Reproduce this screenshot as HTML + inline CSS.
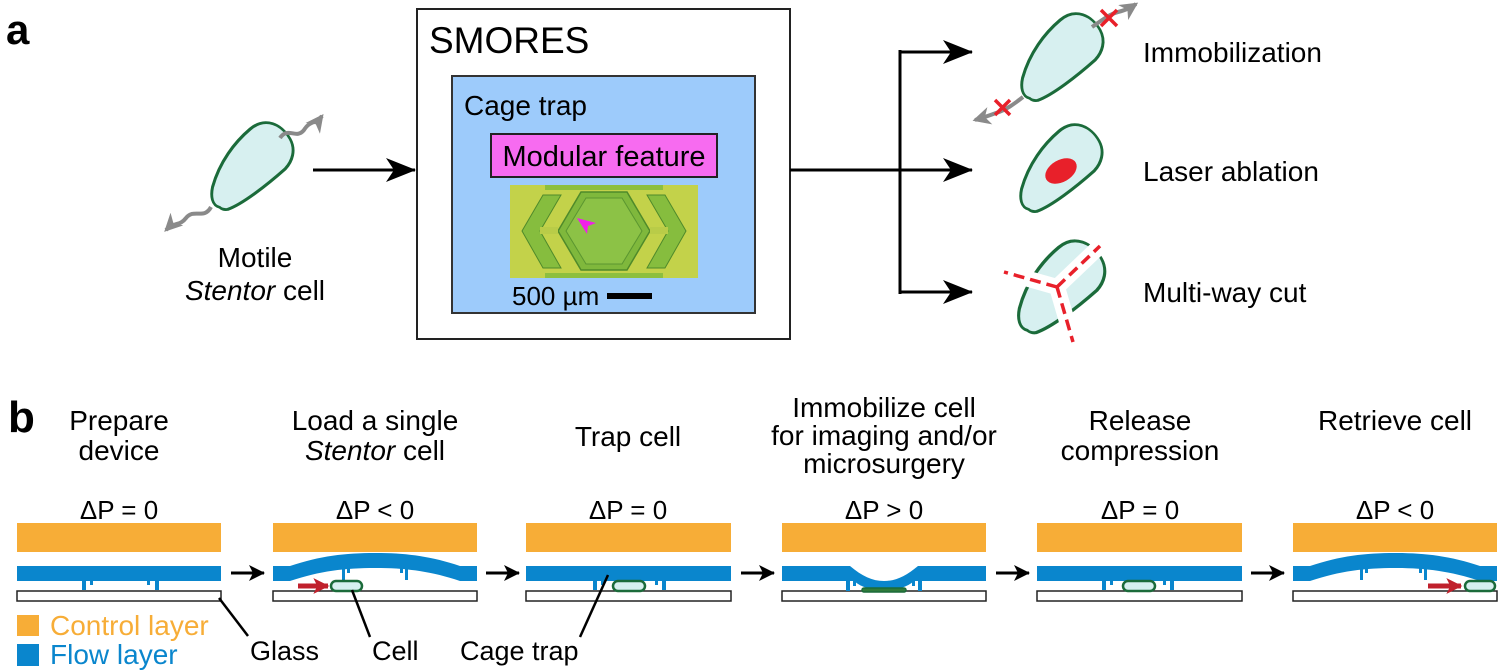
<!DOCTYPE html>
<html><head><meta charset="utf-8"><style>
html,body{margin:0;padding:0;background:#fff;}
svg{display:block;font-family:"Liberation Sans",Arial,sans-serif;}
</style></head><body>
<svg width="1499" height="671" viewBox="0 0 1499 671" xmlns="http://www.w3.org/2000/svg">
<defs>
<marker id="ah" viewBox="0 0 16 16" refX="15" refY="8" markerWidth="16" markerHeight="16" markerUnits="userSpaceOnUse" orient="auto"><path d="M0 0 L16 8 L0 16 L4 8 Z" fill="#000"/></marker>
<marker id="big" viewBox="0 0 30 24" refX="29" refY="12" markerWidth="30" markerHeight="24" markerUnits="userSpaceOnUse" orient="auto"><path d="M0 0 L30 12 L0 24 L8 12 Z" fill="#000"/></marker>
<marker id="gh" viewBox="0 0 14 14" refX="12" refY="7" markerWidth="18" markerHeight="18" markerUnits="userSpaceOnUse" orient="auto"><path d="M0 0 L14 7 L0 14 L4 7 Z" fill="#8a8a8a"/></marker>
<marker id="rh" viewBox="0 0 12 12" refX="11" refY="6" markerWidth="16" markerHeight="16" markerUnits="userSpaceOnUse" orient="auto"><path d="M0 0 L12 6 L0 12 L3 6 Z" fill="#c0202c"/></marker>
<path id="cell" d="M -48 4 C -52 -2, -46 -8, -38 -12 C -15 -22, 10 -24, 30 -22 C 50 -20, 55 -5, 50 8 C 46 18, 35 22, 25 22 C 0 20, -30 16, -44 10 C -47 8,-48 6,-48 4 Z"/>
</defs>

<text x="6" y="44" font-size="42" font-weight="bold">a</text>

<use href="#cell" transform="translate(249,169) rotate(-47) scale(1,1.2)" fill="#d7f0f0" stroke="#1b6b3a" stroke-width="2.6"/>
<path d="M280 138 C288 126,296 140,304 130 C310 120,316 124,322 116" fill="none" stroke="#8a8a8a" stroke-width="4" marker-end="url(#gh)"/>
<path d="M211 207 C204 220,194 208,186 218 C180 226,174 222,166 230" fill="none" stroke="#8a8a8a" stroke-width="4" marker-end="url(#gh)"/>
<text x="255" y="267" font-size="28" text-anchor="middle">Motile</text>
<text x="255" y="300" font-size="28" text-anchor="middle"><tspan font-style="italic">Stentor</tspan> cell</text>

<line x1="313" y1="170" x2="415" y2="170" stroke="#000" stroke-width="3" marker-end="url(#big)"/>

<rect x="417" y="9" width="373" height="330" fill="#fff" stroke="#222" stroke-width="2"/>
<text x="429" y="53" font-size="37">SMORES</text>
<rect x="452" y="76" width="303" height="237" fill="#9dcbfb" stroke="#333" stroke-width="2"/>
<text x="464" y="115" font-size="28">Cage trap</text>
<rect x="491" y="134" width="226" height="43" fill="#f76bf0" stroke="#222" stroke-width="2"/>
<text x="604" y="166" font-size="29" text-anchor="middle">Modular feature</text>
<g>
<rect x="510" y="185" width="188" height="93" fill="#c3d24a"/>
<rect x="545" y="185" width="118" height="5" fill="#8dbf3e"/>
<rect x="545" y="273" width="118" height="5" fill="#8dbf3e"/>
<polygon points="522,231 543,195 561,195 540,231 561,268 543,268" fill="#86bd3e" stroke="#4f8a2a" stroke-width="1"/>
<polygon points="686,231 665,195 647,195 668,231 647,268 665,268" fill="#86bd3e" stroke="#4f8a2a" stroke-width="1"/>
<polygon points="558,231 581,192 627,192 650,231 627,270 581,270" fill="#7fb83c" stroke="#4f8a2a" stroke-width="1.5"/>
<polygon points="566,231 586,198 622,198 642,231 622,264 586,264" fill="#8cc246" stroke="#5b9630" stroke-width="1"/>
<rect x="540" y="227" width="18" height="7" fill="#b9cc48"/>
<rect x="650" y="227" width="18" height="7" fill="#b9cc48"/>
<polygon points="577,218 596,223 588,226 587,234" fill="#f020e8"/>
</g>
<text x="512" y="305" font-size="26">500 µm</text>
<rect x="607" y="293" width="45" height="6" fill="#000"/>

<line x1="790" y1="170" x2="972" y2="170" stroke="#000" stroke-width="3" marker-end="url(#big)"/>
<line x1="900" y1="50" x2="900" y2="294" stroke="#000" stroke-width="3"/>
<line x1="899" y1="52" x2="972" y2="52" stroke="#000" stroke-width="3" marker-end="url(#big)"/>
<line x1="899" y1="292" x2="972" y2="292" stroke="#000" stroke-width="3" marker-end="url(#big)"/>

<use href="#cell" transform="translate(1059,60) rotate(-47) scale(1,1.2)" fill="#d7f0f0" stroke="#1b6b3a" stroke-width="2.6"/>
<path d="M1092 27 C1102 20,1110 14,1118 12 C1126 10,1130 8,1136 4" fill="none" stroke="#8a8a8a" stroke-width="4" marker-end="url(#gh)"/>
<path d="M1023 97 C1014 104,1006 110,996 113 C988 116,982 118,975 120" fill="none" stroke="#8a8a8a" stroke-width="4" marker-end="url(#gh)"/>
<path d="M1101 10 L1117 26 M1117 10 L1101 26" stroke="#e8202a" stroke-width="3.5"/>
<path d="M995 100 L1010 115 M1010 100 L995 115" stroke="#e8202a" stroke-width="3.5"/>
<text x="1143" y="62" font-size="28">Immobilization</text>

<use href="#cell" transform="translate(1058,171) rotate(-47) scale(1,1.2)" fill="#d7f0f0" stroke="#1b6b3a" stroke-width="2.6"/>
<ellipse cx="1061" cy="171" rx="17" ry="11" transform="rotate(-30 1061 171)" fill="#e8202a"/>
<text x="1143" y="181" font-size="28">Laser ablation</text>

<use href="#cell" transform="translate(1058,290) rotate(-47) scale(1.05,1.3)" fill="#d7f0f0" stroke="#1b6b3a" stroke-width="2.6"/>
<path d="M1057 287 L1100 246 M1057 287 L1004 272 M1057 287 L1073 342" stroke="#fff" stroke-width="16" fill="none"/>
<path d="M1057 287 L1100 246 M1057 287 L1004 272 M1057 287 L1073 342" stroke="#e8202a" stroke-width="3.5" stroke-dasharray="11 6" fill="none"/>
<text x="1143" y="302" font-size="28">Multi-way cut</text>

<text x="8" y="432" font-size="44" font-weight="bold">b</text>
<g font-size="28" text-anchor="middle">
<text x="119" y="430">Prepare</text><text x="119" y="460">device</text>
<text x="375" y="430">Load a single</text><text x="375" y="460"><tspan font-style="italic">Stentor</tspan> cell</text>
<text x="628" y="446">Trap cell</text>
<text x="884" y="417">Immobilize cell</text><text x="884" y="445">for imaging and/or</text><text x="884" y="473">microsurgery</text>
<text x="1140" y="430">Release</text><text x="1140" y="460">compression</text>
<text x="1395" y="430">Retrieve cell</text>
</g>
<g font-size="26" text-anchor="middle">
<text x="119" y="519">ΔP = 0</text>
<text x="375" y="519">ΔP &lt; 0</text>
<text x="628" y="519">ΔP = 0</text>
<text x="884" y="519">ΔP &gt; 0</text>
<text x="1140" y="519">ΔP = 0</text>
<text x="1395" y="519">ΔP &lt; 0</text>
</g>

<g fill="#f7ad37">
<rect x="17" y="523" width="204" height="29"/>
<rect x="273" y="523" width="204" height="29"/>
<rect x="526" y="523" width="205" height="29"/>
<rect x="782" y="523" width="204" height="29"/>
<rect x="1037" y="523" width="205" height="29"/>
<rect x="1293" y="523" width="204" height="29"/>
</g>
<g fill="#fff" stroke="#222" stroke-width="1.5">
<rect x="17" y="591" width="204" height="10"/>
<rect x="273" y="591" width="204" height="10"/>
<rect x="526" y="591" width="205" height="10"/>
<rect x="782" y="591" width="204" height="10"/>
<rect x="1037" y="591" width="205" height="10"/>
<rect x="1293" y="591" width="204" height="10"/>
</g>

<g fill="#0a86cd">
<rect x="17" y="566" width="204" height="15"/>
<rect x="82" y="580" width="4" height="10"/><rect x="90" y="580" width="3" height="5"/>
<rect x="155" y="580" width="4" height="10"/><rect x="147" y="580" width="3" height="5"/>
<path d="M273 566 L290 566 C320 556,345 553,375 553 C405 553,430 556,460 566 L477 566 L477 581 L460 581 C430 571,405 568,375 568 C345 568,320 571,290 581 L273 581 Z"/>
<rect x="342" y="568" width="3" height="12"/><rect x="347" y="568" width="3" height="5"/>
<rect x="405" y="568" width="3" height="12"/><rect x="400" y="568" width="3" height="5"/>
<rect x="526" y="566" width="205" height="15"/>
<rect x="593" y="580" width="4" height="10"/><rect x="601" y="580" width="3" height="5"/>
<rect x="662" y="580" width="4" height="10"/><rect x="655" y="580" width="3" height="5"/>
<path d="M782 566 L850 566 C862 576,872 581,884 581 C896 581,906 576,918 566 L986 566 L986 581 L918 581 L914 581 C906 588,896 590,884 590 C872 590,862 588,854 581 L782 581 Z"/>
<rect x="846" y="580" width="4" height="11"/><rect x="853" y="580" width="3" height="6"/>
<rect x="918" y="580" width="4" height="11"/><rect x="912" y="580" width="3" height="6"/>
<rect x="1037" y="566" width="205" height="15"/>
<rect x="1102" y="580" width="4" height="10"/><rect x="1110" y="580" width="3" height="5"/>
<rect x="1170" y="580" width="4" height="10"/><rect x="1163" y="580" width="3" height="5"/>
<path d="M1293 566 L1310 566 C1340 556,1365 553,1395 553 C1425 553,1450 556,1480 566 L1497 566 L1497 581 L1480 581 C1450 571,1425 568,1395 568 C1365 568,1340 571,1310 581 L1293 581 Z"/>
<rect x="1360" y="568" width="3" height="12"/><rect x="1365" y="568" width="3" height="5"/>
<rect x="1424" y="568" width="3" height="12"/><rect x="1419" y="568" width="3" height="5"/>
</g>

<g fill="#d7f0f0" stroke="#1b6b3a" stroke-width="2.5">
<rect x="331" y="581" width="31" height="10" rx="5"/>
<rect x="613" y="581" width="32" height="10" rx="5"/>
<rect x="1123" y="581" width="32" height="10" rx="5"/>
<rect x="1465" y="581" width="30" height="10" rx="5"/>
</g>
<rect x="862" y="588" width="44" height="4" rx="2" fill="#2f7a3a" stroke="#1b6b3a" stroke-width="1.5"/>
<line x1="298" y1="586" x2="328" y2="586" stroke="#c0202c" stroke-width="5" marker-end="url(#rh)"/>
<line x1="1428" y1="586" x2="1461" y2="586" stroke="#c0202c" stroke-width="5" marker-end="url(#rh)"/>

<g stroke="#000" stroke-width="3">
<line x1="231" y1="573" x2="264" y2="573" marker-end="url(#ah)"/>
<line x1="486" y1="573" x2="519" y2="573" marker-end="url(#ah)"/>
<line x1="741" y1="573" x2="774" y2="573" marker-end="url(#ah)"/>
<line x1="996" y1="573" x2="1029" y2="573" marker-end="url(#ah)"/>
<line x1="1251" y1="573" x2="1284" y2="573" marker-end="url(#ah)"/>
</g>

<rect x="17" y="615" width="22" height="21" fill="#f7ad37"/>
<rect x="17" y="644" width="22" height="22" fill="#0a86cd"/>
<text x="50" y="635" font-size="28" fill="#f7ad37">Control layer</text>
<text x="50" y="664" font-size="28" fill="#0a86cd">Flow layer</text>
<g stroke="#000" stroke-width="2.5">
<line x1="219" y1="598" x2="248" y2="636"/>
<line x1="352" y1="590" x2="370" y2="637"/>
<line x1="608" y1="575" x2="580" y2="637"/>
</g>
<g font-size="27">
<text x="250" y="660">Glass</text>
<text x="372" y="660">Cell</text>
<text x="460" y="660">Cage trap</text>
</g>
</svg>
</body></html>
